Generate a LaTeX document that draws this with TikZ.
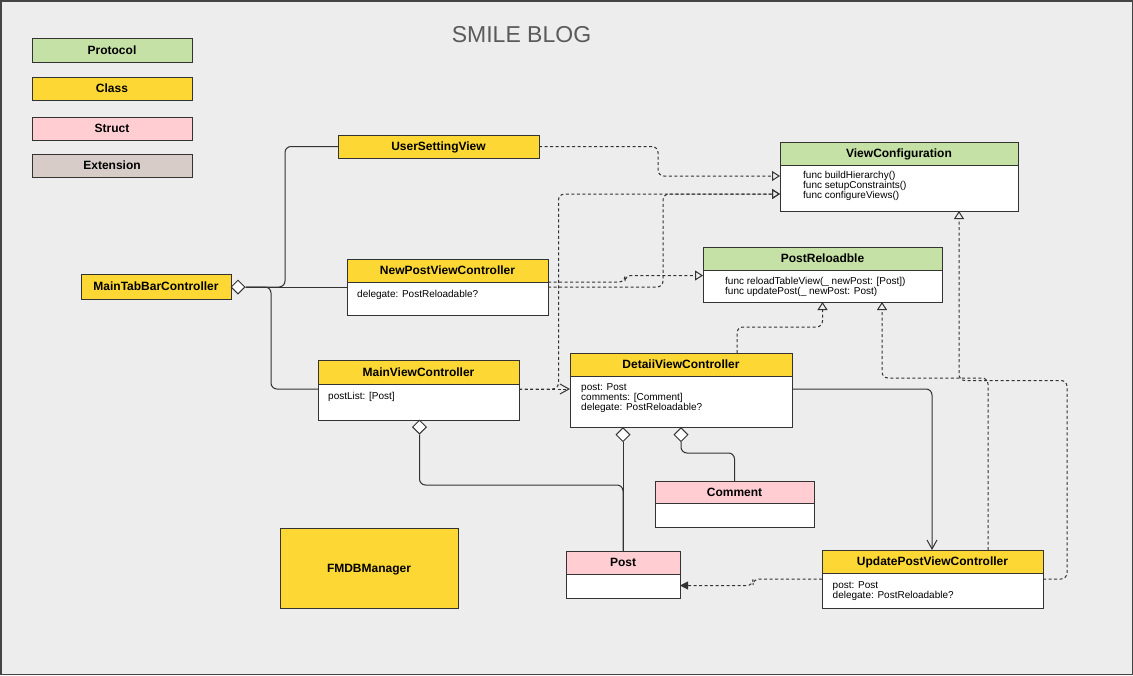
\documentclass[tikz,border=0pt]{standalone}
\usepackage{fontspec}
\setmainfont{Liberation Sans}
\usetikzlibrary{arrows.meta,shapes.geometric}
\definecolor{bg}{HTML}{EDEDED}
\definecolor{framec}{HTML}{444444}
\definecolor{ink}{HTML}{333333}
\definecolor{protocolc}{HTML}{C5E1A5}
\definecolor{classc}{HTML}{FDD835}
\definecolor{structc}{HTML}{FFCDD2}
\definecolor{extc}{HTML}{D7CCC8}
\definecolor{titlec}{HTML}{5A5A5A}
\begin{document}
\begin{tikzpicture}[x=1pt,y=-1pt,
  box/.style={draw=ink, line width=1pt, inner sep=0pt, outer sep=0pt, anchor=north west},
  hdr/.style={box, font=\fontsize{12}{14}\selectfont\bfseries, text height=8.6pt, text depth=0pt},
  bodybox/.style={box, fill=white},
  btext/.style={anchor=base west, inner sep=0pt, font=\fontsize{10}{12}\selectfont},
  agg/.style={diamond, aspect=1, draw=ink, fill=white, line width=1pt, minimum width=14pt, minimum height=14pt, inner sep=0pt},
  conn/.style={draw=ink, line width=1pt, rounded corners=6pt},
  dep/.style={conn, dash pattern=on 3pt off 2.5pt},
  realize/.style={dep, -{Triangle[open, length=8pt, width=10pt]}},
  usearrow/.style={-{Straight Barb[length=9pt, width=10pt]}},
  filledarrow/.style={-{Triangle[length=8pt, width=8pt]}}
]
\useasboundingbox (0,0) rectangle (1133,675);
\fill[bg] (0,0) rectangle (1133,675);
\draw[framec, line width=1.5pt] (0.75,0.75) rectangle (1132.25,674.25);

% title
\node[font=\fontsize{23}{26}\selectfont, text=titlec, text height=16.5pt, text depth=0pt, inner sep=0pt] (title) at (521.5,34) {SMILE BLOG};

% legend
\node[hdr, fill=protocolc, minimum width=160pt, minimum height=24pt] (lgp) at (32,38) {Protocol};
\node[hdr, fill=classc, minimum width=160pt, minimum height=23pt] (lgc) at (32,77) {Class};
\node[hdr, fill=structc, minimum width=160pt, minimum height=23pt] (lgs) at (32,117) {Struct};
\node[hdr, fill=extc, minimum width=160pt, minimum height=23pt] (lge) at (32,154) {Extension};

% UserSettingView
\node[hdr, fill=classc, minimum width=201pt, minimum height=23pt] (usv) at (338,135) {UserSettingView};

% ViewConfiguration
\node[bodybox, minimum width=238pt, minimum height=46pt] (vcb) at (780,165) {};
\node[hdr, fill=protocolc, minimum width=238pt, minimum height=23pt] (vc) at (780,142) {ViewConfiguration};
\node[btext] (vc1) at (803,178.5) {func buildHierarchy()};
\node[btext] (vc2) at (803,188.7) {func setupConstraints()};
\node[btext] (vc3) at (803,198.9) {func configureViews()};

% PostReloadble
\node[bodybox, minimum width=239pt, minimum height=32pt] (prb) at (703,270) {};
\node[hdr, fill=protocolc, minimum width=239pt, minimum height=23pt] (pr) at (703,247) {PostReloadble};
\node[btext] (pr1) at (725,284.5) {func reloadTableView(\_ newPost: [Post])};
\node[btext] (pr2) at (725,294.5) {func updatePost(\_ newPost: Post)};

% NewPostViewController
\node[bodybox, minimum width=201pt, minimum height=33pt] (npb) at (347,282) {};
\node[hdr, fill=classc, minimum width=201pt, minimum height=23pt] (np) at (347,259) {NewPostViewController};
\node[btext] (np1) at (357,297.5) {delegate: PostReloadable?};

% MainTabBarController
\node[hdr, fill=classc, minimum width=150pt, minimum height=25pt] (mtb) at (81,274) {MainTabBarController};
\node[agg] (mtbd) at (238,287) {};

% MainViewController
\node[bodybox, minimum width=201pt, minimum height=36pt] (mvb) at (318,384) {};
\node[hdr, fill=classc, minimum width=201pt, minimum height=24pt] (mv) at (318,360) {MainViewController};
\node[btext] (mv1) at (328,399) {postList: [Post]};
\node[agg] (mvd) at (419.5,427) {};

% DetaiiViewController
\node[bodybox, minimum width=222pt, minimum height=51pt] (dvb) at (570,376) {};
\node[hdr, fill=classc, minimum width=222pt, minimum height=23pt] (dv) at (570,353) {DetaiiViewController};
\node[btext] (dv1) at (581,390) {post: Post};
\node[btext] (dv2) at (581,400.3) {comments: [Comment]};
\node[btext] (dv3) at (581,410.5) {delegate: PostReloadable?};
\node[agg] (dd1) at (623,434.7) {};
\node[agg] (dd2) at (681,434.7) {};

% Comment
\node[bodybox, minimum width=159pt, minimum height=24pt] (cmb) at (655,503) {};
\node[hdr, fill=structc, minimum width=159pt, minimum height=22pt] (cm) at (655,481) {Comment};

% Post
\node[bodybox, minimum width=114pt, minimum height=24pt] (pob) at (566,574) {};
\node[hdr, fill=structc, minimum width=114pt, minimum height=23pt] (po) at (566,551) {Post};

% FMDBManager
\node[hdr, fill=classc, minimum width=178pt, minimum height=80pt] (fm) at (280,528) {FMDBManager};

% UpdatePostViewController
\node[bodybox, minimum width=221pt, minimum height=35pt] (upb) at (822,573) {};
\node[hdr, fill=classc, minimum width=221pt, minimum height=23pt] (up) at (822,550) {UpdatePostViewController};
\node[btext] (up1) at (832.5,588) {post: Post};
\node[btext] (up2) at (832.5,598.2) {delegate: PostReloadable?};

% aggregation connectors
\draw[conn] (mtbd.east) -- (285,287) -- (285,146.5) -- (usv.west);
\draw[conn] (mtbd.east) -- (npb.west |- mtbd.east);
\draw[conn] (mtbd.east) -- (271,287) -- (271,389) -- (mvb.west |- 0,389);
\draw[conn] (mvd.south) -- (419.5,485) -- (623,485) -- (po.north);
\draw[conn] (dd1.south) -- (po.north);
\draw[conn] (dd2.south) -- (681,453) -- (734.5,453) -- (cm.north);

% realization connectors
\draw[realize] (usv.east) -- (658,146.5) -- (658,176) -- (vcb.west |- 0,176);
\draw[realize] (npb.north east) -- (625,282) -- (625,275.5) -- (prb.west |- 0,275.5);
\draw[realize] (npb.east |- 0,287) -- (663,287) -- (663,194) -- (vcb.west |- 0,194);
\draw[realize] (mvb.east |- 0,389) -- (558.5,389) -- (558.5,194) -- (vcb.west |- 0,194);
\draw[realize] (dv.north -| 737,0) -- (737,327) -- (822.5,327) -- (prb.south -| 822.5,0);
\draw[realize] (up.north -| 988,0) -- (988,378) -- (882,378) -- (prb.south -| 882,0);
\draw[realize] (upb.east |- 0,579) -- (1067,579) -- (1067,380.5) -- (959,380.5) -- (vcb.south -| 959,0);

% dependency / association
\draw[dep, usearrow] (mvb.east |- 0,389) -- (dvb.west |- 0,389);
\draw[conn, usearrow] (dvb.east |- 0,389) -- (932,389) -- (up.north -| 932,0);
\draw[dep, filledarrow] (upb.west |- 0,579) -- (753,579) -- (753,585.5) -- (pob.east |- 0,585.5);
\end{tikzpicture}
\end{document}
